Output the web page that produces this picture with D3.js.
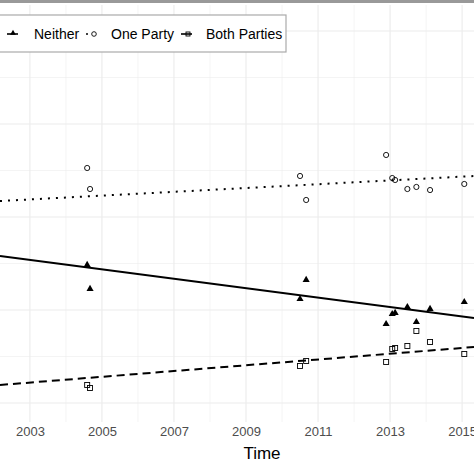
<!DOCTYPE html><html><head><script src="https://cdn.jsdelivr.net/npm/d3@7"></script>
<style>body{margin:0;background:#fff}</style></head><body><svg id="c" width="474" height="474"></svg>
<script>
const years=[2004.59,2004.67,2010.5,2010.67,2012.89,2013.06,2013.14,2013.48,2013.73,2014.11,2015.06];
const oneParty=[.3527,.3301,.3441,.3183,.3667,.3419,.3398,.3301,.3323,.3290,.3355];
const neither=[.2484,.2226,.2118,.2323,.1849,.1957,.1968,.2032,.1871,.2011,.2086];
const both=[.1194,.1161,.1398,.1452,.1441,.1581,.1591,.1613,.1774,.1656,.1527];
const fitYears=[2002.17,2015.33];
const fitNeither=[.2581,.1914], fitOne=[.3172,.3441], fitBoth=[.1194,.1602];
const xTicks=[2003,2005,2007,2009,2011,2013,2015];
const svg=d3.select("#c");
const x=d3.scaleLinear().domain([2002.17,2015.33]).range([0,474]);
const y=d3.scaleLinear().domain([0.1,0.5]).range([403,31]);
const pTop=5,pBot=422;
const g=svg.append("g");
d3.range(2002,2016,1).forEach(t=>{const maj=xTicks.includes(t);g.append("line").attr("x1",x(t)).attr("x2",x(t)).attr("y1",pTop).attr("y2",pBot).attr("stroke","#ebebeb").attr("stroke-width",maj?1.1:0.55);});
d3.range(0.05,0.55,0.05).forEach(v=>{const yy=y(v);if(yy<pTop||yy>pBot)return;const maj=Math.round(v*100)%10===0;g.append("line").attr("x1",0).attr("x2",474).attr("y1",yy).attr("y2",yy).attr("stroke","#ebebeb").attr("stroke-width",maj?1.1:0.55);});
svg.append("rect").attr("x",0).attr("y",0).attr("width",474).attr("height",3).attr("fill","#999");
const ax=d3.axisBottom(x).tickValues(xTicks).tickFormat(d3.format("d")).tickSize(0).tickPadding(5);
const a=svg.append("g").attr("transform",`translate(0,${pBot})`).call(ax);
a.select(".domain").remove();
a.selectAll("text").attr("font-family","Liberation Sans, Arial").attr("font-size",13).attr("fill","#4d4d4d");
svg.append("text").attr("x",262).attr("y",459).attr("text-anchor","middle").attr("font-family","Liberation Sans, Arial").attr("font-size",17).text("Time");
const ln=d3.line().x(d=>x(d[0])).y(d=>y(d[1]));
const fit=(arr,dash)=>svg.append("path").attr("d",ln(fitYears.map((t,i)=>[t,arr[i]]))).attr("stroke","#000").attr("stroke-width",2).attr("fill","none").attr("stroke-dasharray",dash);
fit(fitNeither,null);fit(fitOne,"2,6");fit(fitBoth,"8,5");
const tri=d3.symbol().type(d3.symbolTriangle).size(22);
svg.selectAll(".t").data(years).join("path").attr("transform",(d,i)=>`translate(${x(d)},${y(neither[i])})`).attr("d",tri()).attr("fill","#000");
svg.selectAll(".o").data(years).join("circle").attr("cx",d=>x(d)).attr("cy",(d,i)=>y(oneParty[i])).attr("r",2.6).attr("fill","none").attr("stroke","#000").attr("stroke-width",0.9);
svg.selectAll(".s").data(years).join("rect").attr("x",d=>x(d)-2.5).attr("y",(d,i)=>y(both[i])-2.5).attr("width",5).attr("height",5).attr("fill","none").attr("stroke","#000").attr("stroke-width",0.9);
const L=svg.append("g");
L.append("rect").attr("x",-1).attr("y",15).attr("width",287).attr("height",37).attr("fill","#fff").attr("stroke","#aaa").attr("stroke-width",1.2);
const lf="Liberation Sans, Arial";
L.append("line").attr("x1",7).attr("x2",18).attr("y1",34).attr("y2",34).attr("stroke","#000").attr("stroke-width",1.6);
L.append("path").attr("transform","translate(13,33)").attr("d",d3.symbol().type(d3.symbolTriangle).size(14)()).attr("fill","#000");
L.append("text").attr("x",34).attr("y",39).text("Neither");
L.append("circle").attr("cx",87).attr("cy",34).attr("r",1).attr("fill","#000");
L.append("circle").attr("cx",94).attr("cy",34).attr("r",2.3).attr("fill","none").attr("stroke","#000").attr("stroke-width",0.9);
L.append("text").attr("x",111).attr("y",39).text("One Party");
L.append("line").attr("x1",181).attr("x2",192).attr("y1",34).attr("y2",34).attr("stroke","#000").attr("stroke-width",1.6);
L.append("rect").attr("x",186).attr("y",32).attr("width",4).attr("height",4).attr("fill","none").attr("stroke","#000").attr("stroke-width",0.9);
L.append("text").attr("x",206).attr("y",39).text("Both Parties");
L.selectAll("text").attr("font-family",lf).attr("font-size",14).attr("fill","#000");
</script></body></html>
